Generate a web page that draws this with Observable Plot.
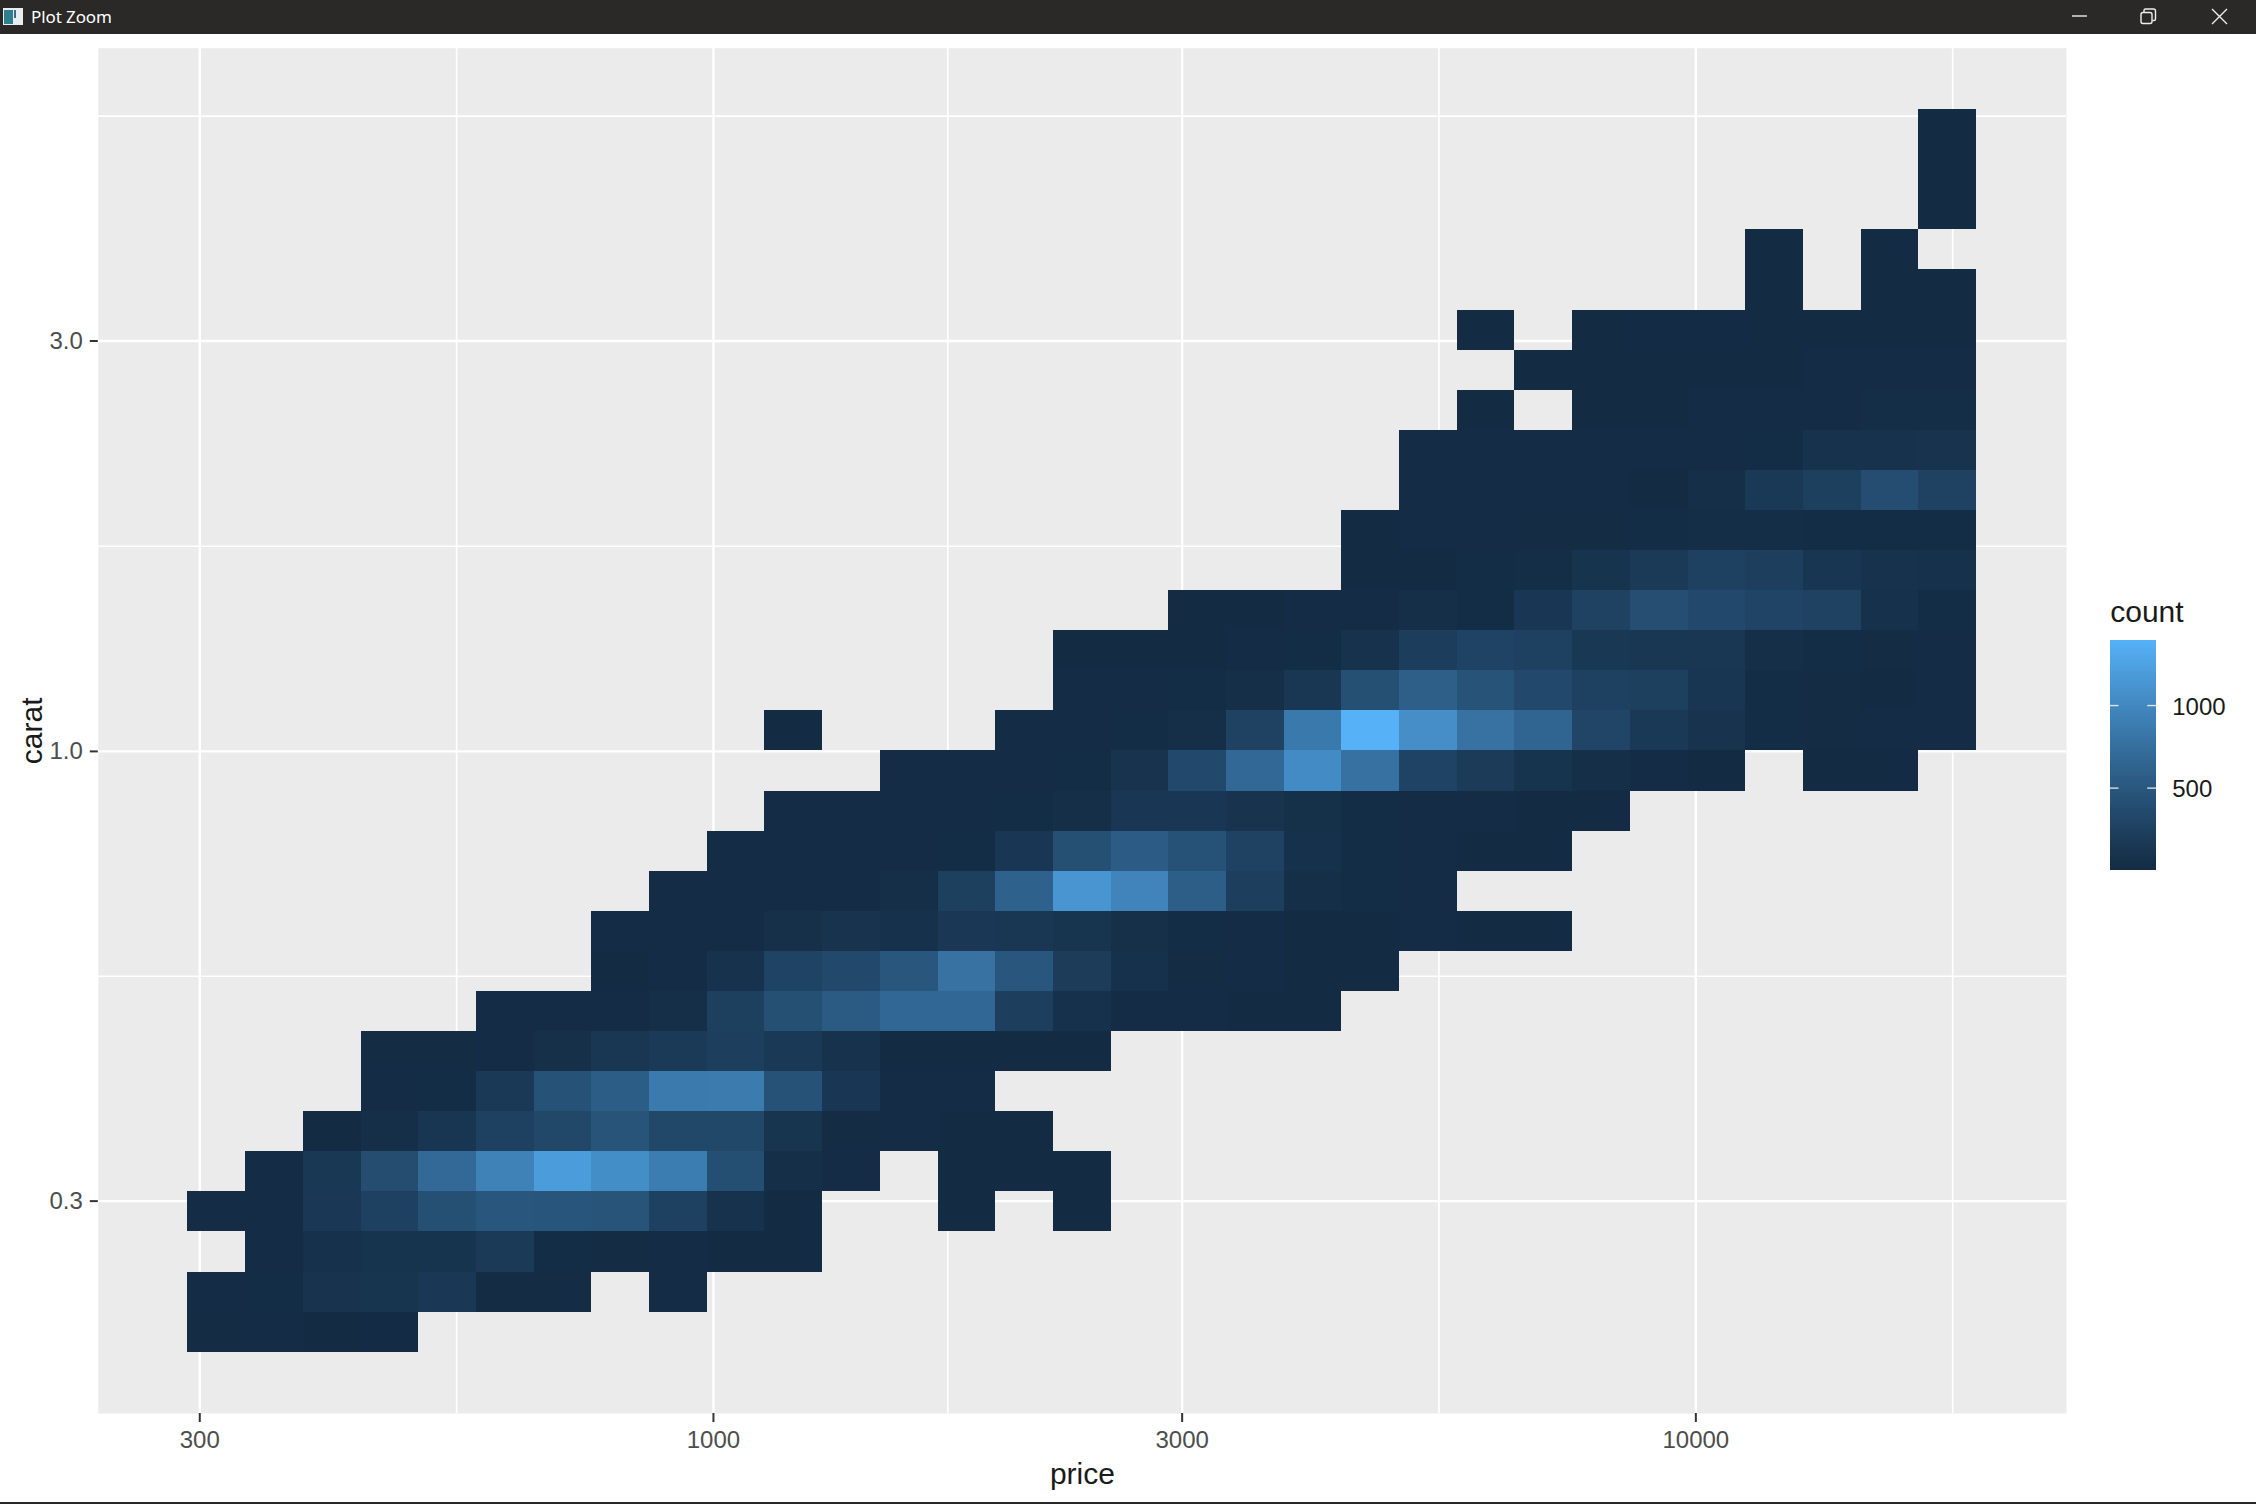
<!DOCTYPE html>
<html>
<head>
<meta charset="utf-8">
<script src="https://cdn.jsdelivr.net/npm/d3@7"></script>
<script src="https://cdn.jsdelivr.net/npm/@observablehq/plot@0.6"></script>
<style>
html,body{margin:0;padding:0;background:#fff;width:2256px;height:1504px;overflow:hidden;font-family:"Liberation Sans",Arial,sans-serif}
#bar{position:absolute;left:0;top:0;width:2256px;height:34px;background:#2a2927;color:#fff;font:17px "Noto Sans",sans-serif}
#bar span{position:absolute;left:31px;top:5px;line-height:24px;letter-spacing:-.1px}
#bar svg{position:absolute;left:0;top:0}
#chart{position:absolute;left:0;top:34px}
#legend{position:absolute;left:2060px;top:590px}
#foot{position:absolute;left:0;top:1502px;width:2256px;height:2px;background:#2a2927}
</style>
</head>
<body>
<div id="bar">
<svg width="2256" height="34" fill="none" stroke="#eee" stroke-width="1.4">
<rect x="3" y="8" width="20" height="17" fill="#e8eef0" stroke="none"/>
<rect x="4" y="10" width="9" height="14" fill="#2f7f8f" stroke="none"/>
<rect x="14" y="10" width="2" height="8" fill="#3a6a90" stroke="none"/>
<path d="M2072 16h15"/>
<rect x="2141" y="12.5" width="11" height="11" rx="2"/>
<path d="M2144 12v-1.5q0-1.5 1.5-1.5h8q2 0 2 2v8q0 1.5-1.5 1.5h-1.5"/>
<path d="M2212 9l15 15M2227 9l-15 15"/>
</svg>
<span>Plot Zoom</span>
</div>
<div id="chart"></div>
<div id="legend"></div>
<div id="foot"></div>
<script>
// Axis breaks
const priceBreaks = [300, 1000, 3000, 10000];
const priceMinorBreaks = [547.7, 1732, 5477, 18257];
const caratBreaks = [0.3, 1, 3];
const caratMinorBreaks = [0.5477, 1.732, 5.477];
const priceDomain = [236.5, 23840];
const caratDomain = [0.1699, 6.57];
const legendBreaks = [500, 1000];
const countRange = [1, 1394];

// Bin layout (log10 of the lower edge and bin width)
const priceBinLog0 = 2.4651, priceBinLogStep = 0.05873;
const caratBinLog0 = -0.6985, caratBinLogStep = 0.0466;

// Counts per carat bin, bottom row first; rowStart = first price bin in the row; 0 = empty bin
const rowStart = [0,0,1,0,1,2,3,3,5,7,7,8,9,10,12,10,15,15,17,20,20,21,21,22,23,22,27,27,30,30,30];
const row00 = [14,18,10,6];
const row01 = [15,30,90,115,155,20,20,0,18];
const row02 = [15,70,105,105,180,25,20,15,12,12];
const row03 = [15,18,155,260,410,490,470,460,260,85,10,0,0,12,0,8];
const row04 = [15,150,385,690,940,1190,1055,890,395,45,15,0,12,10,8];
const row05 = [10,50,125,260,325,460,325,325,115,20,15,12,8];
const row06 = [15,25,165,440,565,855,865,440,145,15,15];
const row07 = [20,20,18,60,135,180,220,165,85,12,10,10,10];
const row08 = [15,15,18,45,240,410,530,670,670,220,75,18,15,12,10];
const row09 = [12,18,85,280,345,490,775,490,200,75,20,15,12,10];
const row10 = [18,18,18,60,95,75,155,135,115,60,25,15,12,12,15,12,8];
const row11 = [15,18,18,18,45,240,605,1130,960,575,220,50,25,15];
const row12 = [15,18,18,18,30,145,410,555,440,270,75,30,15,12,8];
const row13 = [15,15,15,15,30,50,145,145,95,55,25,18,15,12,8];
const row14 = [15,15,15,30,95,350,680,1030,770,280,190,105,50,15,10,0,10,8];
const row15 = [10,0,0,0,15,18,30,45,270,845,1394,1060,775,640,300,170,95,25,20,15,15];
const row16 = [18,18,25,50,140,410,580,450,350,260,240,125,25,20,12,15];
const row17 = [12,12,12,15,30,85,210,280,260,150,135,135,50,30,20,15];
const row18 = [12,12,15,18,45,30,145,270,400,340,290,265,75,25];
const row19 = [12,12,30,40,105,180,255,220,125,80,70];
const row20 = [12,15,15,20,20,30,35,35,30,25,25];
const row21 = [15,15,15,15,12,45,170,240,390,270];
const row22 = [15,15,15,15,15,18,25,85,85,90];
const row23 = [8,0,12,12,15,15,18,35,35];
const row24 = [5,8,10,12,12,15,15,15];
const row25 = [3,0,5,6,6,8,8,8,8];
const row26 = [3,0,3,4];
const row27 = [2,0,3];
const row28 = [2];
const row29 = [1];
const row30 = [1];
const rows = [row00,row01,row02,row03,row04,row05,row06,row07,row08,row09,row10,row11,row12,row13,row14,row15,row16,row17,row18,row19,row20,row21,row22,row23,row24,row25,row26,row27,row28,row29,row30];

const cells = rows.flatMap((row, r) => row.map((count, k) => {
  const c = rowStart[r] + k;
  return {
    count,
    x1: 10 ** (priceBinLog0 + c * priceBinLogStep),
    x2: 10 ** (priceBinLog0 + (c + 1) * priceBinLogStep),
    y1: 10 ** (caratBinLog0 + r * caratBinLogStep),
    y2: 10 ** (caratBinLog0 + (r + 1) * caratBinLogStep)
  };
})).filter(d => d.count > 0);

const colorScale = {type: "linear", domain: countRange, range: ["#132B43", "#56B1F7"], interpolate: "lab"};
const font = "'Liberation Sans', Arial, sans-serif";

const chart = Plot.plot({
  width: 2256, height: 1468,
  marginLeft: 97.8, marginRight: 190, marginTop: 13.7, marginBottom: 89,
  style: {fontFamily: font, background: "transparent"},
  x: {type: "log", domain: priceDomain, axis: null},
  y: {type: "log", domain: caratDomain, axis: null},
  color: colorScale,
  marks: [
    Plot.frame({fill: "#EBEBEB", stroke: "none"}),
    Plot.ruleX(priceMinorBreaks, {stroke: "#fff", strokeWidth: 1.6}),
    Plot.ruleY(caratMinorBreaks, {stroke: "#fff", strokeWidth: 1.6}),
    Plot.ruleX(priceBreaks, {stroke: "#fff", strokeWidth: 2.4}),
    Plot.ruleY(caratBreaks, {stroke: "#fff", strokeWidth: 2.4}),
    Plot.rect(cells, {x1: "x1", x2: "x2", y1: "y1", y2: "y2", fill: "count", shapeRendering: "crispEdges"}),
    Plot.axisX(priceBreaks, {anchor: "bottom", tickSize: 9, tickPadding: 8, tickFormat: d => String(d), label: null,
      fontSize: 24, stroke: "#333", strokeWidth: 2, fill: "#4D4D4D"}),
    Plot.axisY(caratBreaks, {anchor: "left", tickSize: 8, tickPadding: 7.5, tickFormat: d => d.toFixed(1), label: null,
      fontSize: 24, stroke: "#333", strokeWidth: 2, fill: "#4D4D4D"}),
    Plot.text(["price"], {frameAnchor: "bottom", dy: 60.6, fontSize: 30, fill: "#1a1a1a", lineAnchor: "middle"}),
    Plot.text(["carat"], {frameAnchor: "left", dx: -66, rotate: -90, fontSize: 30, fill: "#1a1a1a", textAnchor: "middle", lineAnchor: "middle"})
  ]
});
document.getElementById("chart").append(chart);

// Legend: a ramp of thin rects through the same colour scale
const rampStep = (countRange[1] - countRange[0]) / 115;
const ramp = d3.range(countRange[0], countRange[1], rampStep);
const legend = Plot.plot({
  width: 196, height: 300,
  marginLeft: 0, marginRight: 0, marginTop: 0, marginBottom: 0,
  style: {fontFamily: font, background: "transparent", overflow: "visible"},
  x: {domain: [0, 1], range: [49.7, 96], axis: null},
  y: {domain: countRange, range: [280, 50], axis: null},
  color: colorScale,
  marks: [
    Plot.rect(ramp, {x1: 0, x2: 1, y1: d => d, y2: d => d + rampStep, fill: d => d + rampStep / 2, shapeRendering: "crispEdges"}),
    Plot.ruleY(legendBreaks, {x1: 0, x2: 0.19, stroke: "#fff", strokeWidth: 1.4, strokeOpacity: 0.8}),
    Plot.ruleY(legendBreaks, {x1: 0.81, x2: 1, stroke: "#fff", strokeWidth: 1.4, strokeOpacity: 0.8}),
    Plot.text(legendBreaks, {x: 1, y: d => d, dx: 15.7, dy: 1.5, text: d => String(d), textAnchor: "start", fontSize: 24, fill: "#1a1a1a"}),
    Plot.text(["count"], {x: 0, y: countRange[1], dy: -28, textAnchor: "start", fontSize: 30, fill: "#1a1a1a"})
  ]
});
document.getElementById("legend").append(legend);
</script>
</body>
</html>
